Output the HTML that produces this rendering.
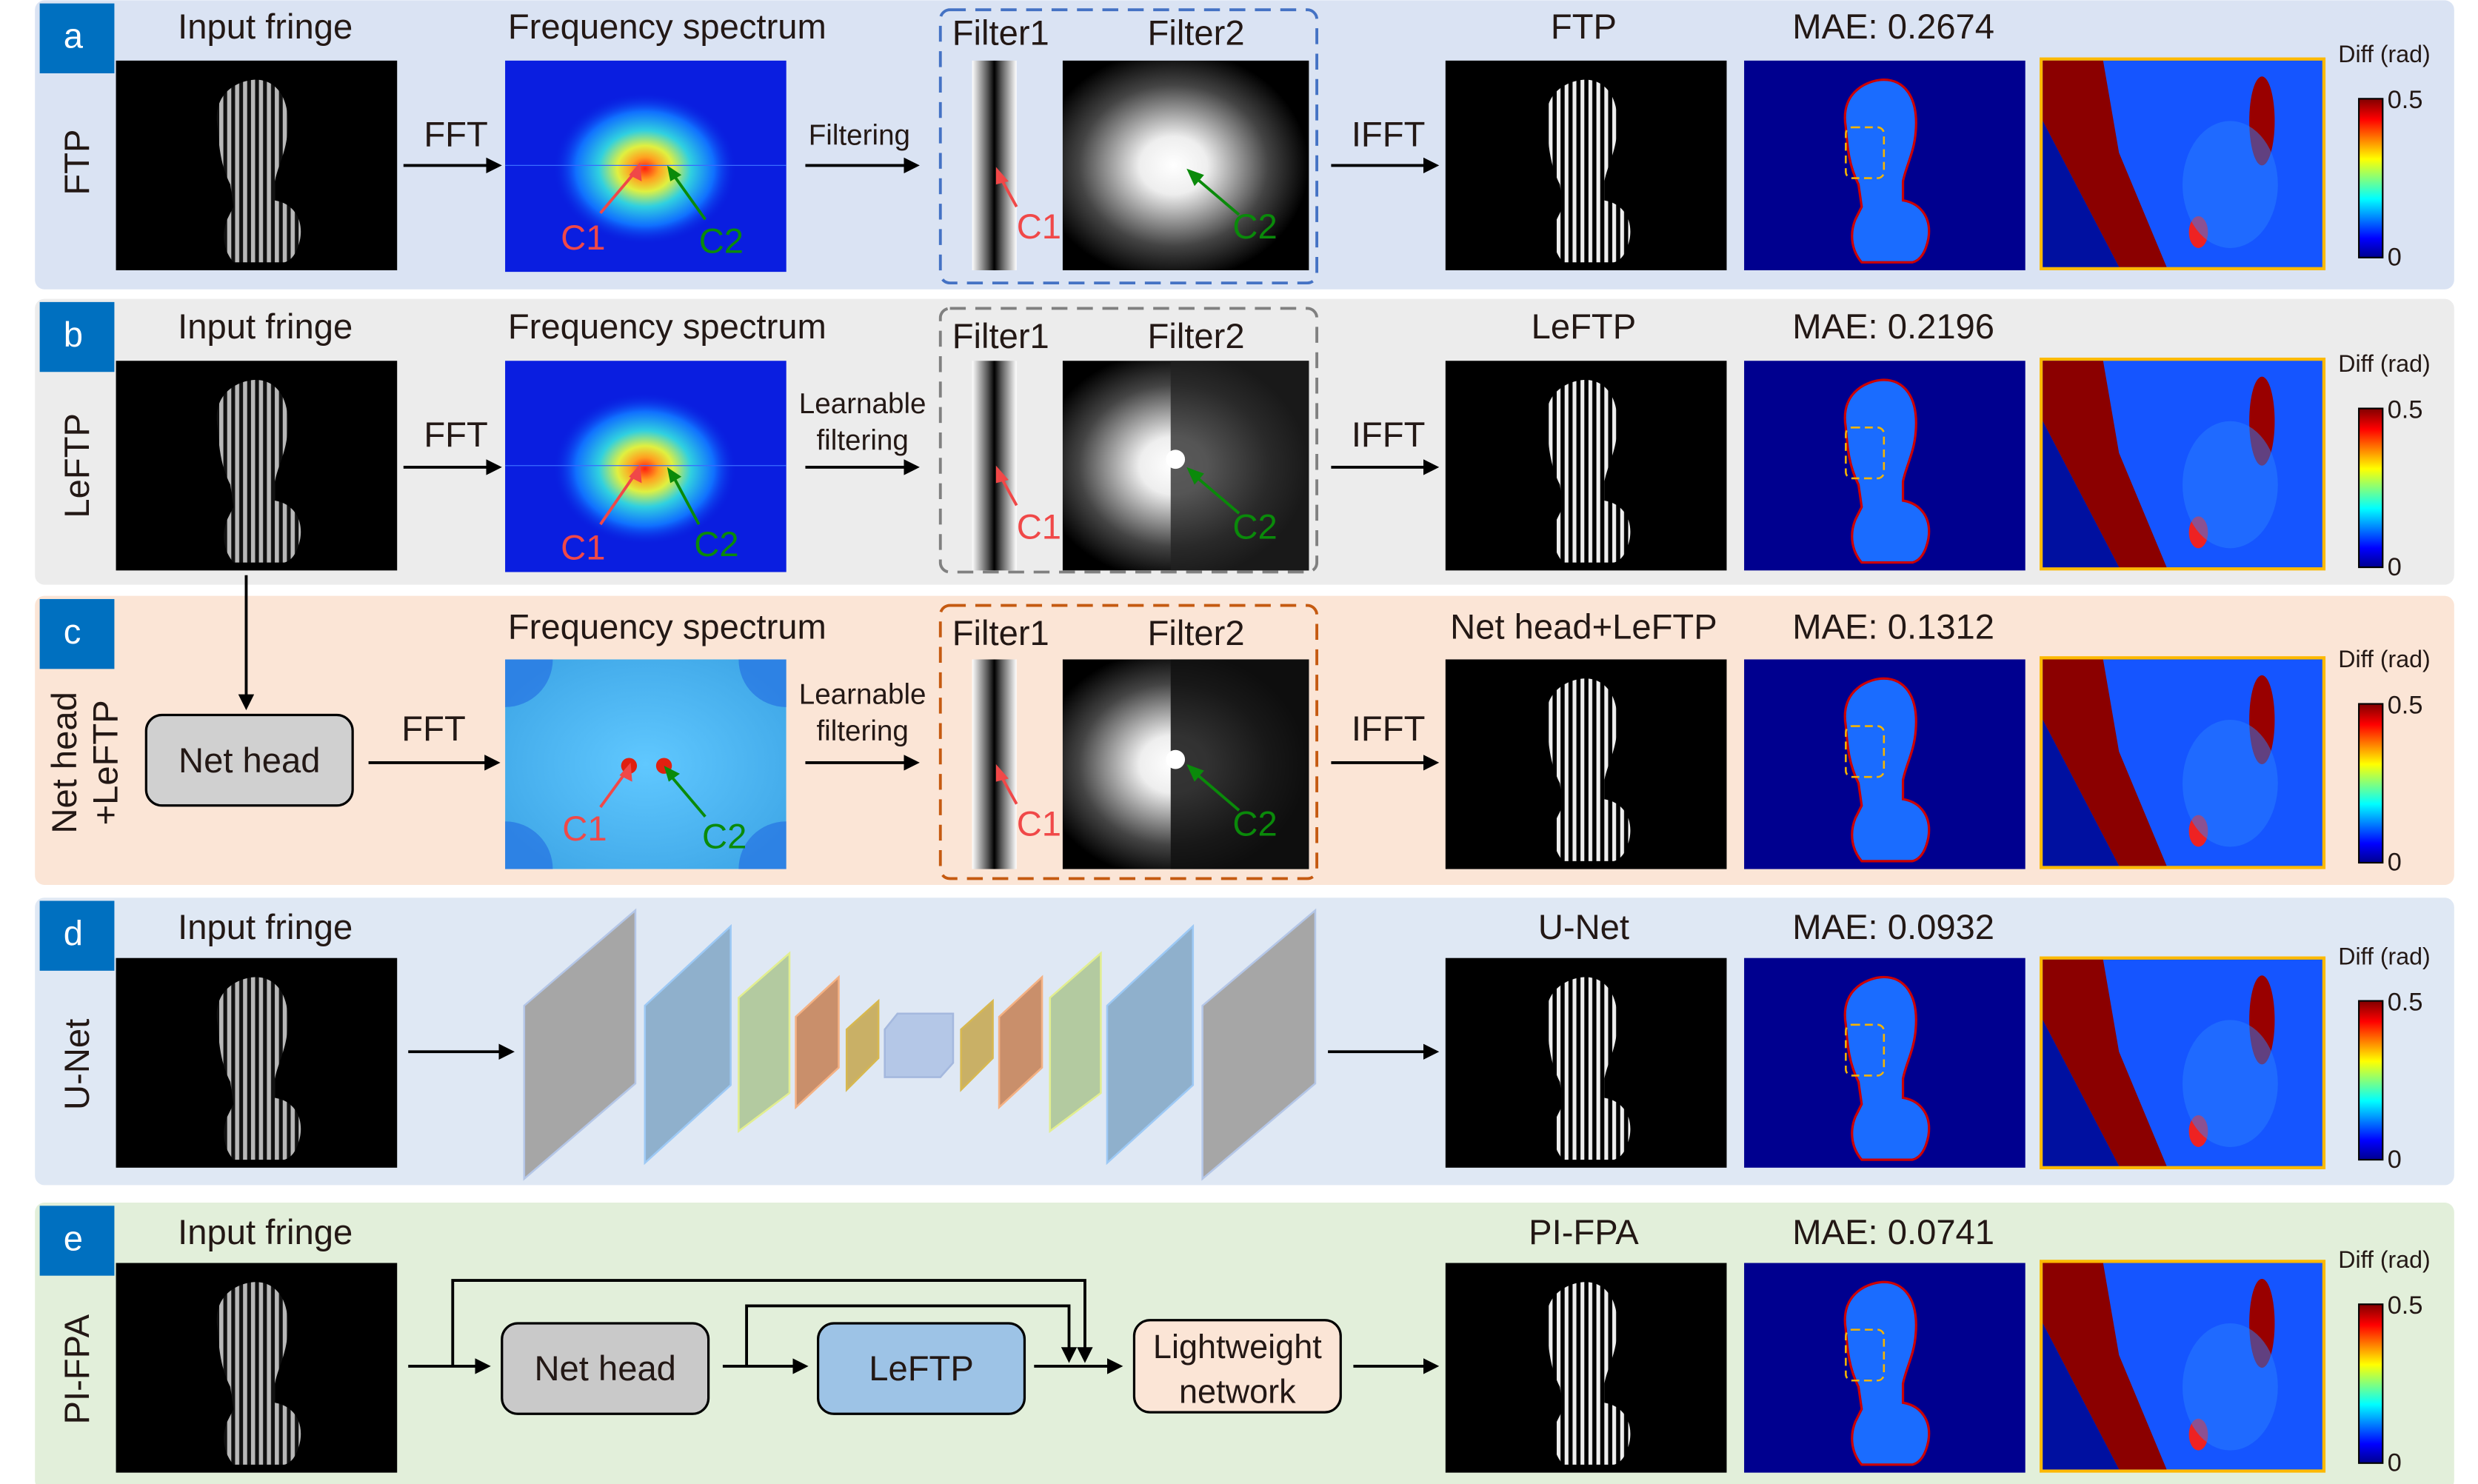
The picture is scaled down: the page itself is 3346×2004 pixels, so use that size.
<!DOCTYPE html>
<html><head><meta charset="utf-8"><style>
html,body{margin:0;padding:0;background:#fff}
svg{display:block}
text{font-family:"Liberation Sans",Arial,sans-serif;fill:#231815}
</style></head><body>
<svg width="3346" height="2004" viewBox="0 0 1560 934" xmlns="http://www.w3.org/2000/svg">
<defs>
<pattern id="st" width="5" height="10" patternUnits="userSpaceOnUse"><rect width="5" height="10" fill="#111"/><rect width="2.6" height="10" fill="#b8b8b8"/></pattern>
<pattern id="st2" width="5" height="10" patternUnits="userSpaceOnUse"><rect width="5" height="10" fill="#000"/><rect width="2.4" height="10" fill="#eee"/></pattern>
<radialGradient id="spec" cx="0.5" cy="0.5" r="0.5"><stop offset="0" stop-color="#ff2010"/><stop offset="0.15" stop-color="#ffa020"/><stop offset="0.3" stop-color="#e0f040"/><stop offset="0.5" stop-color="#30d0e0"/><stop offset="0.75" stop-color="#1070ff"/><stop offset="1" stop-color="#0a1ee0" stop-opacity="0"/></radialGradient>
<radialGradient id="specc" cx="0.5" cy="0.5" r="0.6"><stop offset="0" stop-color="#60c8ff"/><stop offset="1" stop-color="#40a8e8"/></radialGradient>
<radialGradient id="glow" cx="0.45" cy="0.5" r="0.55"><stop offset="0" stop-color="#fff"/><stop offset="0.25" stop-color="#eee"/><stop offset="0.7" stop-color="#444"/><stop offset="1" stop-color="#000"/></radialGradient>
<linearGradient id="f1" x1="0" x2="1"><stop offset="0" stop-color="#fff"/><stop offset="0.35" stop-color="#555"/><stop offset="0.5" stop-color="#000"/><stop offset="0.65" stop-color="#555"/><stop offset="1" stop-color="#fff"/></linearGradient>
<linearGradient id="jet" x1="0" y1="1" x2="0" y2="0"><stop offset="0" stop-color="#00008f"/><stop offset="0.12" stop-color="#0000ff"/><stop offset="0.37" stop-color="#00ffff"/><stop offset="0.62" stop-color="#ffff00"/><stop offset="0.87" stop-color="#ff0000"/><stop offset="1" stop-color="#800000"/></linearGradient>
<clipPath id="cc"><rect x="318" y="415" width="177" height="132"/></clipPath>
<path id="head" d="M64,42 C60,18 80,12 88,12 C100,12 110,22 108,45 C107,58 102,66 100,76 L100,88 C112,90 118,100 116,112 C114,122 110,126 106,127 L74,127 C68,120 66,110 70,100 L74,92 L72,78 C66,66 65,55 64,42 Z"/>
<g id="fringe"><rect width="177" height="132" fill="#000"/><use href="#head" fill="url(#st)"/></g>
<g id="out"><rect width="177" height="132" fill="#000"/><use href="#head" fill="url(#st2)"/></g>
<g id="err"><rect width="177" height="132" fill="#00008f"/><use href="#head" fill="#1a6cff" stroke="#c00" stroke-width="1.5"/><rect x="64" y="42" width="24" height="32" rx="4" fill="none" stroke="#f5b400" stroke-width="1.2" stroke-dasharray="5,3"/></g>
<g id="zm"><rect width="180" height="134" fill="#fcb900"/><rect x="2" y="2" width="176" height="130" fill="#1555ff"/><path d="M2,2 L40,2 L50,60 L80,132 L50,132 L2,40Z" fill="#8b0000"/><path d="M2,40 L50,132 L2,132Z" fill="#0010a0"/><ellipse cx="140" cy="40" rx="8" ry="28" fill="#900"/><ellipse cx="100" cy="110" rx="6" ry="10" fill="#e22"/><ellipse cx="120" cy="80" rx="30" ry="40" fill="#2a80ff" opacity="0.5"/></g>
<g id="cb"><rect x="0" y="0" width="15" height="100" fill="url(#jet)" stroke="#000" stroke-width="1"/><text x="-13" y="-23" font-size="15">Diff (rad)</text><text x="18" y="6" font-size="16">0.5</text><text x="18" y="105" font-size="16">0</text></g>
<marker id="ar" markerWidth="10" markerHeight="10" refX="8" refY="5" orient="auto" markerUnits="userSpaceOnUse"><path d="M0,0 L10,5 L0,10Z" fill="#000"/></marker>
</defs>

<!-- panels -->
<rect x="22" y="0" width="1523" height="182" rx="6" fill="#dae3f3"/>
<rect x="22" y="188" width="1523" height="180" rx="6" fill="#ececec"/>
<rect x="22" y="375" width="1523" height="182" rx="6" fill="#fbe5d6"/>
<rect x="22" y="565" width="1523" height="181" rx="6" fill="#dfe8f4"/>
<rect x="22" y="757" width="1523" height="181" rx="6" fill="#e2efda"/>

<!-- labels -->
<g font-size="22">
<rect x="25" y="2" width="47" height="44" fill="#0070c0"/><text x="40" y="30" style="fill:#fff">a</text>
<rect x="25" y="190" width="47" height="44" fill="#0070c0"/><text x="40" y="218" style="fill:#fff">b</text>
<rect x="25" y="377" width="47" height="44" fill="#0070c0"/><text x="40" y="405" style="fill:#fff">c</text>
<rect x="25" y="567" width="47" height="44" fill="#0070c0"/><text x="40" y="595" style="fill:#fff">d</text>
<rect x="25" y="759" width="47" height="44" fill="#0070c0"/><text x="40" y="787" style="fill:#fff">e</text>
</g>
<g font-size="22" text-anchor="middle">
<text transform="translate(56,102) rotate(-90)">FTP</text>
<text transform="translate(56,293) rotate(-90)">LeFTP</text>
<text transform="translate(48,480) rotate(-90)">Net head</text>
<text transform="translate(74,480) rotate(-90)">+LeFTP</text>
<text transform="translate(56,670) rotate(-90)">U-Net</text>
<text transform="translate(56,862) rotate(-90)">PI-FPA</text>
</g>

<!-- titles -->
<g font-size="22" text-anchor="middle">
<text x="167" y="24">Input fringe</text><text x="420" y="24">Frequency spectrum</text><text x="997" y="24">FTP</text><text x="1192" y="24">MAE: 0.2674</text>
<text x="167" y="213">Input fringe</text><text x="420" y="213">Frequency spectrum</text><text x="997" y="213">LeFTP</text><text x="1192" y="213">MAE: 0.2196</text>
<text x="420" y="402">Frequency spectrum</text><text x="997" y="402">Net head+LeFTP</text><text x="1192" y="402">MAE: 0.1312</text>
<text x="167" y="591">Input fringe</text><text x="997" y="591">U-Net</text><text x="1192" y="591">MAE: 0.0932</text>
<text x="167" y="783">Input fringe</text><text x="997" y="783">PI-FPA</text><text x="1192" y="783">MAE: 0.0741</text>
<text x="630" y="28">Filter1</text><text x="753" y="28">Filter2</text>
<text x="630" y="219">Filter1</text><text x="753" y="219">Filter2</text>
<text x="630" y="406">Filter1</text><text x="753" y="406">Filter2</text>
</g>

<!-- images -->
<use href="#fringe" x="73" y="38"/><use href="#fringe" x="73" y="227"/><use href="#fringe" x="73" y="603"/><use href="#fringe" x="73" y="795"/>
<g id="sp"><rect x="318" y="38" width="177" height="133" fill="#0a1ee0"/><ellipse cx="406" cy="106" rx="58" ry="48" fill="url(#spec)"/><line x1="318" y1="104" x2="495" y2="104" stroke="#3a6cff" stroke-width="0.6"/></g>
<use href="#sp" y="189"/>
<g clip-path="url(#cc)">
<rect x="318" y="415" width="177" height="132" fill="url(#specc)"/>
<circle cx="318" cy="415" r="30" fill="#1a5ce0" opacity="0.5"/><circle cx="495" cy="415" r="30" fill="#1a5ce0" opacity="0.5"/><circle cx="318" cy="547" r="30" fill="#1a5ce0" opacity="0.5"/><circle cx="495" cy="547" r="30" fill="#1a5ce0" opacity="0.5"/>
<circle cx="396" cy="482" r="5" fill="#e02010"/><circle cx="418" cy="482" r="5" fill="#e02010"/>
</g>
<!-- filters -->
<rect x="612" y="38" width="28" height="132" fill="url(#f1)"/><rect x="669" y="38" width="155" height="132" fill="url(#glow)"/>
<rect x="612" y="227" width="28" height="132" fill="url(#f1)"/><rect x="669" y="227" width="155" height="132" fill="url(#glow)"/><rect x="737" y="227" width="87" height="132" fill="#222" opacity="0.75"/><circle cx="740" cy="289" r="6" fill="#fff"/>
<rect x="612" y="415" width="28" height="132" fill="url(#f1)"/><rect x="669" y="415" width="155" height="132" fill="url(#glow)"/><rect x="737" y="415" width="87" height="132" fill="#111" opacity="0.85"/><circle cx="740" cy="478" r="6" fill="#fff"/>
<!-- dashed boxes -->
<rect x="592" y="6" width="237" height="172" rx="6" fill="none" stroke="#4472c4" stroke-width="1.8" stroke-dasharray="10,6"/>
<rect x="592" y="194" width="237" height="166" rx="6" fill="none" stroke="#808080" stroke-width="1.8" stroke-dasharray="10,6"/>
<rect x="592" y="381" width="237" height="172" rx="6" fill="none" stroke="#c55a11" stroke-width="1.8" stroke-dasharray="10,6"/>
<!-- C labels -->
<g font-size="22">
<text x="353" y="157" style="fill:#f04848">C1</text><text x="353" y="352" style="fill:#f04848">C1</text><text x="354" y="529" style="fill:#f04848">C1</text><text x="640" y="150" style="fill:#f04848">C1</text><text x="640" y="339" style="fill:#f04848">C1</text><text x="640" y="526" style="fill:#f04848">C1</text>
<text x="440" y="159" style="fill:#0a8a0a">C2</text><text x="437" y="350" style="fill:#0a8a0a">C2</text><text x="442" y="534" style="fill:#0a8a0a">C2</text><text x="776" y="150" style="fill:#0a8a0a">C2</text><text x="776" y="339" style="fill:#0a8a0a">C2</text><text x="776" y="526" style="fill:#0a8a0a">C2</text>
</g>
<g stroke-width="1.8">
<line x1="378" y1="134" x2="400" y2="108" stroke="#f04848"/><path d="M403,102 L404,114 L396,110Z" fill="#f04848"/>
<line x1="444" y1="138" x2="424" y2="110" stroke="#0a8a0a"/><path d="M420,104 L429,110 L422,114Z" fill="#0a8a0a"/>
<line x1="378" y1="330" x2="400" y2="298" stroke="#f04848"/><path d="M403,292 L404,304 L396,300Z" fill="#f04848"/>
<line x1="440" y1="330" x2="424" y2="300" stroke="#0a8a0a"/><path d="M420,294 L429,300 L422,304Z" fill="#0a8a0a"/>
<line x1="378" y1="508" x2="394" y2="486" stroke="#f04848"/><path d="M397,480 L398,492 L390,488Z" fill="#f04848"/>
<line x1="444" y1="514" x2="422" y2="488" stroke="#0a8a0a"/><path d="M418,482 L428,487 L421,492Z" fill="#0a8a0a"/>
<line x1="640" y1="130" x2="630" y2="112" stroke="#f04848"/><path d="M627,105 L635,114 L627,116Z" fill="#f04848"/>
<line x1="780" y1="135" x2="753" y2="112" stroke="#0a8a0a"/><path d="M747,106 L758,110 L752,117Z" fill="#0a8a0a"/>
<line x1="640" y1="318" x2="630" y2="300" stroke="#f04848"/><path d="M627,293 L635,302 L627,304Z" fill="#f04848"/>
<line x1="780" y1="323" x2="753" y2="300" stroke="#0a8a0a"/><path d="M747,294 L758,298 L752,305Z" fill="#0a8a0a"/>
<line x1="640" y1="506" x2="630" y2="488" stroke="#f04848"/><path d="M627,481 L635,490 L627,492Z" fill="#f04848"/>
<line x1="780" y1="510" x2="753" y2="487" stroke="#0a8a0a"/><path d="M747,481 L758,485 L752,492Z" fill="#0a8a0a"/>
</g>
<!-- outputs -->
<use href="#out" x="910" y="38"/><use href="#out" x="910" y="227"/><use href="#out" x="910" y="415"/><use href="#out" x="910" y="603"/><use href="#out" x="910" y="795"/>
<use href="#err" x="1098" y="38"/><use href="#err" x="1098" y="227"/><use href="#err" x="1098" y="415"/><use href="#err" x="1098" y="603"/><use href="#err" x="1098" y="795"/>
<use href="#zm" x="1284" y="36"/><use href="#zm" x="1284" y="225"/><use href="#zm" x="1284" y="413"/><use href="#zm" x="1284" y="602"/><use href="#zm" x="1284" y="793"/>
<use href="#cb" x="1485" y="62"/><use href="#cb" x="1485" y="257"/><use href="#cb" x="1485" y="443"/><use href="#cb" x="1485" y="630"/><use href="#cb" x="1485" y="821"/>

<!-- arrows & labels -->
<g stroke="#000" stroke-width="1.8" marker-end="url(#ar)" fill="none">
<line x1="254" y1="104" x2="314" y2="104"/><line x1="507" y1="104" x2="577" y2="104"/><line x1="838" y1="104" x2="904" y2="104"/>
<line x1="254" y1="294" x2="314" y2="294"/><line x1="507" y1="294" x2="577" y2="294"/><line x1="838" y1="294" x2="904" y2="294"/>
<line x1="155" y1="362" x2="155" y2="445"/>
<line x1="232" y1="480" x2="313" y2="480"/><line x1="507" y1="480" x2="577" y2="480"/><line x1="838" y1="480" x2="904" y2="480"/>
<line x1="257" y1="662" x2="322" y2="662"/><line x1="836" y1="662" x2="904" y2="662"/>
<line x1="257" y1="860" x2="307" y2="860"/><line x1="455" y1="860" x2="507" y2="860"/><line x1="651" y1="860" x2="705" y2="860"/><line x1="852" y1="860" x2="904" y2="860"/>
<polyline points="285,860 285,806 683,806 683,856"/>
<polyline points="470,860 470,822 673,822 673,856"/>
</g>
<g font-size="22" text-anchor="middle">
<text x="287" y="92">FFT</text><text x="874" y="92">IFFT</text>
<text x="287" y="281">FFT</text><text x="874" y="281">IFFT</text>
<text x="273" y="466">FFT</text><text x="874" y="466">IFFT</text>
</g>
<g font-size="18" text-anchor="middle">
<text x="541" y="91">Filtering</text>
<text x="543" y="260">Learnable</text><text x="543" y="283">filtering</text>
<text x="543" y="443">Learnable</text><text x="543" y="466">filtering</text>
</g>
<!-- boxes -->
<rect x="92" y="450" width="130" height="57" rx="10" fill="#d0d0d0" stroke="#000" stroke-width="1.5"/><text x="157" y="486" font-size="22" text-anchor="middle">Net head</text>
<rect x="316" y="833" width="130" height="57" rx="10" fill="#c9c9c9" stroke="#000" stroke-width="1.5"/><text x="381" y="869" font-size="22" text-anchor="middle">Net head</text>
<rect x="515" y="833" width="130" height="57" rx="10" fill="#9dc3e6" stroke="#000" stroke-width="1.5"/><text x="580" y="869" font-size="22" text-anchor="middle">LeFTP</text>
<rect x="714" y="831" width="130" height="58" rx="10" fill="#fbe5d6" stroke="#000" stroke-width="1.5"/><text x="779" y="855" font-size="21" text-anchor="middle">Lightweight</text><text x="779" y="883" font-size="21" text-anchor="middle">network</text>

<!-- U-Net -->
<g stroke-width="1.2">
<polygon points="330,633 400,573 400,682 330,742" fill="#a6a6a6" stroke="#b4c6e7"/>
<polygon points="406,633 460,583 460,683 406,732" fill="#8fb0cc" stroke="#9dc9f5"/>
<polygon points="465,628 497,600 497,688 465,712" fill="#b3caa0" stroke="#e2ee90"/>
<polygon points="501,640 528,615 528,672 501,697" fill="#c98f6b" stroke="#f4b183"/>
<polygon points="533,648 553,630 553,666 533,686" fill="#c9b066" stroke="#d7b850"/>
<polygon points="557,648 565,638 600,638 600,669 592,678 557,678" fill="#b4c7e7" stroke="#a4b8de"/>
<polygon points="605,648 625,630 625,666 605,686" fill="#c9b066" stroke="#d7b850"/>
<polygon points="629,640 656,615 656,672 629,697" fill="#c98f6b" stroke="#f4b183"/>
<polygon points="661,628 693,600 693,688 661,712" fill="#b3caa0" stroke="#e2ee90"/>
<polygon points="697,633 751,583 751,683 697,732" fill="#8fb0cc" stroke="#9dc9f5"/>
<polygon points="757,633 828,573 828,682 757,742" fill="#a6a6a6" stroke="#b4c6e7"/>
</g>
</svg>
</body></html>
